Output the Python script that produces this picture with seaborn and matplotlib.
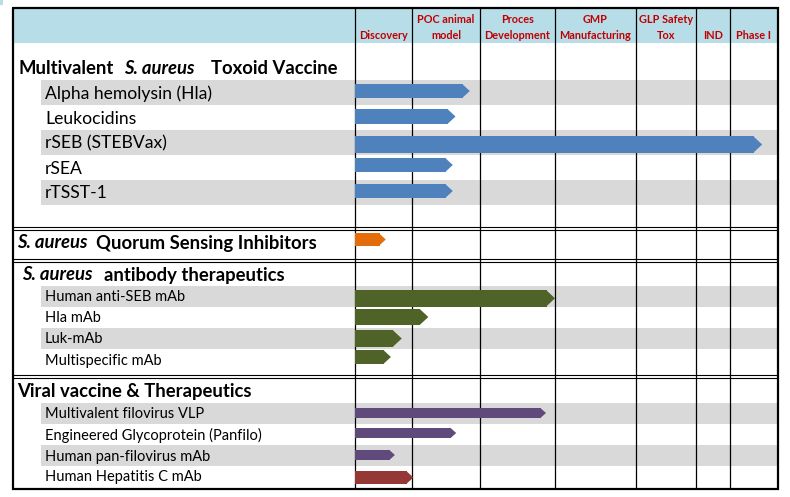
import numpy as np
import matplotlib
matplotlib.use("Agg")
import matplotlib.pyplot as plt
from matplotlib.patches import Rectangle
import seaborn as sns

# ---------------- data ----------------
stages = ["Discovery", "POC animal\nmodel", "Proces\nDevelopment", "GMP\nManufacturing",
          "GLP Safety\nTox", "IND", "Phase I"]

toxoid_items = ["Alpha hemolysin (Hla)", "Leukocidins", "rSEB (STEBVax)", "rSEA", "rTSST-1"]
toxoid_progress = [1.85, 1.64, 6.67, 1.60, 1.60]   # in stages completed

qsi_progress = [0.54]

antibody_items = ["Human anti-SEB mAb", "Hla mAb", "Luk-mAb", "Multispecific mAb"]
antibody_progress = [3.00, 1.24, 0.82, 0.63]

viral_items = ["Multivalent filovirus VLP", "Engineered Glycoprotein (Panfilo)",
               "Human pan-filovirus mAb", "Human Hepatitis C mAb"]
viral_progress = [2.88, 1.65, 0.70, 1.02]

# ---------------- style / layout ----------------
sns.set_theme(style="white")
plt.rcParams["font.family"] = ["Lato", "DejaVu Sans"]

BLUE, ORANGE, GREEN, PURPLE, RED = "#4F81BD", "#E46C0A", "#4F6228", "#604A7B", "#953735"
GRAY, HEAD, HEADTXT = "#D9D9D9", "#B7DEE8", "#C00000"

W, H = 790, 497
X0 = 355
col_px = [355, 412, 480, 555, 636, 696, 730, 778]


def X(px):
    return px - X0


col_edges = [X(p) for p in col_px]

fig = plt.figure(figsize=(W / 100, H / 100), dpi=100)
ax = fig.add_axes([0, 0, 1, 1])
renderer = fig.canvas.get_renderer()


def stage_to_x(p):
    return float(np.interp(p, np.arange(len(col_edges)), col_edges))


def fit_size(s, target, weight="normal", style="normal"):
    t = ax.text(0, 0, s, fontsize=10, fontweight=weight, fontstyle=style)
    w = t.get_window_extent(renderer).width
    t.remove()
    return 10 * target / w


row_big = fit_size("Alpha hemolysin (Hla)", 167)
row_small = fit_size("Engineered Glycoprotein (Panfilo)", 216)
head_sz = fit_size("Manufacturing", 69, "bold") * 1.04

# section titles: (text, style, start px, end px) per piece
titles = [
    (68, [("Multivalent", "normal", 18, 120), ("S. aureus", "italic", 124, 200),
          ("Toxoid Vaccine", "normal", 211, 338)]),
    (243, [("S. aureus", "italic", 17.3, 88.3), ("Quorum Sensing Inhibitors", "normal", 95.7, 305)]),
    (275, [("S. aureus", "italic", 21.7, 91.7), ("antibody therapeutics", "normal", 104, 277)]),
    (392, [("Viral vaccine & Therapeutics", "normal", 17, 240)]),
]
title_sz = float(np.mean([fit_size(s, e - b, "bold", st)
                          for _, ps in titles for s, st, b, e in ps]))

# header band
ax.add_patch(Rectangle((X(13), 8), 778 - 13, 35, color=HEAD, lw=0, zorder=1))
ax.add_patch(Rectangle((X(0), 0), 3, 5, color=HEAD, lw=0, zorder=1))

sections = [
    dict(items=toxoid_items, prog=toxoid_progress, colors=[BLUE] * 5,
         tops=[80, 105, 130, 155, 180], bh=25,
         bars=[91, 116.5, 144.5, 165, 191], hs=[14, 15, 17, 14.5, 14.5],
         ly=[93.5, 118.5, 143.5, 168.5, 193.5], lsz=row_big),
    dict(items=[], prog=qsi_progress, colors=[ORANGE], tops=[], bh=0,
         bars=[239.5], hs=[12.5], ly=[], lsz=row_big),
    dict(items=antibody_items, prog=antibody_progress, colors=[GREEN] * 4,
         tops=[285.7, 306.7, 327.7, 348.7], bh=21,
         bars=[298.3, 317, 338.5, 357], hs=[16.7, 16, 17, 14],
         ly=[297, 318.5, 339, 361], lsz=row_small),
    dict(items=viral_items, prog=viral_progress, colors=[PURPLE] * 3 + [RED],
         tops=[402.7, 423.7, 445, 466], bh=21,
         bars=[413, 433, 455, 477.5], hs=[10, 10, 10, 13.3],
         ly=[413.5, 435, 456.5, 477.5], lsz=row_small),
]

for sec in sections:
    for i, top in enumerate(sec["tops"]):
        if i % 2 == 0:
            ax.add_patch(Rectangle((X(41), top), 778 - 41, sec["bh"], color=GRAY, lw=0, zorder=1))
    for name, y in zip(sec["items"], sec["ly"]):
        ax.text(X(45), y, name, fontsize=sec["lsz"], va="center", ha="left",
                color="black", zorder=5)
    for p, yc, h, c in zip(sec["prog"], sec["bars"], sec["hs"], sec["colors"]):
        tip = stage_to_x(p)
        body = tip - h / 2
        sns.barplot(x=[body], y=[yc], orient="h", native_scale=True, width=h,
                    color=c, saturation=1, errorbar=None, linewidth=0, ax=ax, zorder=3)
        ax.fill([body - 0.6, tip, body - 0.6], [yc - h / 2, yc, yc + h / 2],
                color=c, lw=0, zorder=3)

# column lines
for e in col_edges[:-1]:
    ax.plot([e, e], [8, 488], color="black", lw=0.9, zorder=2, solid_capstyle="butt")

# double separators
for y1, y2 in [(227.3, 229.5), (259.3, 261.5), (375.2, 377.6)]:
    for yy in (y1, y2):
        ax.plot([X(13), X(778)], [yy, yy], color="black", lw=0.8, zorder=4)

# outer border
ax.plot([X(12.5), X(778), X(778), X(12.5), X(12.5)], [7.5, 7.5, 488.5, 488.5, 7.5],
        color="black", lw=1.6, zorder=4, solid_joinstyle="miter")

# header text
for i, s in enumerate(stages):
    cx = (col_edges[i] + col_edges[i + 1]) / 2
    ax.text(cx, 41, s, fontsize=head_sz, fontweight="bold", color=HEADTXT,
            ha="center", va="bottom", linespacing=1.55, zorder=5)

# section titles
for y, pieces in titles:
    for s, st, b, e in pieces:
        ax.text(X(b), y, s, fontsize=title_sz, fontweight="bold", fontstyle=st,
                va="center", ha="left", color="black", zorder=5)

ax.set_xlim(X(0), X(W))
ax.set_ylim(H, 0)
ax.axis("off")
fig.savefig("out.png", dpi=100, facecolor="white")
